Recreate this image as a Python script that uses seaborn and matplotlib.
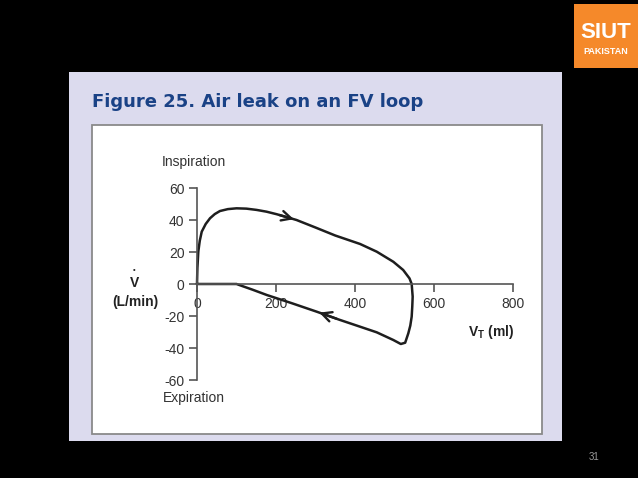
import matplotlib
matplotlib.use('Agg')
import matplotlib.pyplot as plt
from matplotlib.patches import Rectangle
from matplotlib import font_manager
import seaborn as sns

# flow-volume loop (tidal volume in ml, flow in L/min)
vt_ml = [0, 1, 3.3, 7, 12, 22, 33, 45, 58, 78, 100, 125, 151, 176, 202, 252,
         300, 350, 413, 455, 497, 522, 538, 543.5, 546, 545, 543.5, 540, 535,
         527, 516, 497, 455, 413, 360, 303, 240, 177, 140, 117, 100, 50, 0]
flow_lpm = [0, 10, 20.2, 27, 32.7, 37.5, 41.1, 43.7, 45.6, 46.8, 47.3, 47.1,
            46.3, 45.2, 43.6, 40, 35.3, 30.3, 25, 20.2, 13.9, 8.75, 3.5, 0,
            -7.9, -14, -20.4, -26, -30.8, -36.7, -37.5, -35, -30.2, -26.7,
            -22.3, -17.3, -12, -6.9, -3.5, -1.5, 0, 0, 0]
arrow_idx = [15, 35]   # points on the loop where the direction arrows sit

y_ticks = [-60, -40, -20, 0, 20, 40, 60]
x_ticks = [0, 200, 400, 600, 800]

title = 'Figure 25. Air leak on an FV loop'

sns.set_style('white')
plt.rcParams['font.family'] = ['Liberation Sans', 'DejaVu Sans']
plt.rcParams['axes.unicode_minus'] = False

W, H = 638, 478
fig = plt.figure(figsize=(W / 100, H / 100), dpi=100, facecolor='black')


def fx(px):
    return px / W


def fy(py):
    return 1 - py / H


# slide panel and white figure box
fig.patches.append(Rectangle((fx(69), fy(441)), fx(562) - fx(69), fy(72) - fy(441),
                             transform=fig.transFigure, facecolor='#dcdbee',
                             edgecolor='none', zorder=-5))
fig.patches.append(Rectangle((fx(92), fy(434)), fx(542) - fx(92), fy(125) - fy(434),
                             transform=fig.transFigure, facecolor='white',
                             edgecolor='#8a8a8a', lw=1.3, zorder=-4))
fig.text(fx(92), fy(107), title, fontsize=13, fontweight='bold',
         family='DejaVu Sans', color='#1a4286', va='baseline')

# logo
fig.patches.append(Rectangle((fx(574), fy(68)), fx(638) - fx(574), fy(4) - fy(68),
                             transform=fig.transFigure, facecolor='#f5892a',
                             edgecolor='none', zorder=-5))
names = {f.name for f in font_manager.fontManager.ttflist}
narrow = 'Liberation Sans Narrow' if 'Liberation Sans Narrow' in names else 'Liberation Sans'
fig.text(fx(606), fy(33), 'SIUT', fontsize=18 if narrow != 'Liberation Sans' else 16,
         fontweight='bold', family=narrow, color='white', ha='center', va='center')
fig.text(fx(606), fy(52), 'PAKISTAN', fontsize=6.5, fontweight='bold', family=narrow,
         color='white', ha='center', va='center')
fig.text(fx(594), fy(457), '31', fontsize=7, color='#9b9b9b', ha='center', va='center')

# chart axes laid over the white box
ax = fig.add_axes([fx(92), fy(434), fx(542) - fx(92), fy(125) - fy(434)])
ax.set_facecolor('none')
ax.set_xlim((92 - 197) / 0.395, (542 - 197) / 0.395)
ax.set_ylim((284 - 434) / 1.6, (284 - 125) / 1.6)

sns.lineplot(x=vt_ml, y=flow_lpm, sort=False, estimator=None, color='#1e1e1e',
             lw=1.8, ax=ax)
for i in arrow_idx:
    ax.annotate('', xy=(vt_ml[i], flow_lpm[i]), xytext=(vt_ml[i - 1], flow_lpm[i - 1]),
                arrowprops=dict(arrowstyle='->,head_length=0.7,head_width=0.35',
                                color='#1e1e1e', lw=1.7))

for s in ['top', 'right']:
    ax.spines[s].set_visible(False)
for s in ['left', 'bottom']:
    ax.spines[s].set_position(('data', 0))
    ax.spines[s].set_color('#555555')
    ax.spines[s].set_linewidth(1.2)
ax.spines['left'].set_bounds(-60, 60)
ax.spines['bottom'].set_bounds(0, 800)

ax.set_yticks(y_ticks)
ax.set_yticklabels([str(v) for v in y_ticks])
ax.set_xticks(x_ticks)
ax.set_xticklabels([str(v) for v in x_ticks])
ax.tick_params(axis='both', direction='out', length=6, width=1.2, color='#555555',
               labelsize=10, labelcolor='#333333')
ax.tick_params(axis='y', pad=3, left=True)
ax.tick_params(axis='x', pad=3, bottom=True)

ax.text(-88, 76, 'Inspiration', fontsize=10, color='#333333', va='center')
ax.text(-86, -71, 'Expiration', fontsize=10, color='#333333', va='center')
ax.text(-159, -2, 'V', fontsize=10, fontweight='bold', color='#222222',
        ha='center', va='baseline')
ax.text(-159, 8.5, '\u2022', fontsize=5.5, color='#222222', ha='center', va='center')
ax.text(-157, -11.5, '(L/min)', fontsize=10, fontweight='bold', color='#222222',
        ha='center', va='center')
ax.text(744, -30, r'V$_\mathregular{T}$ (ml)', fontsize=10, fontweight='bold',
        color='#222222', ha='center', va='center')

fig.savefig('out.png', dpi=100, facecolor='black')
